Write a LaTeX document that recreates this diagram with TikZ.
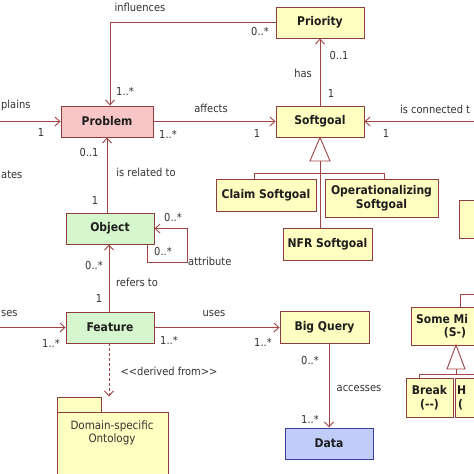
\documentclass[tikz,border=0pt]{standalone}
\usepackage{fontspec}
\setmainfont{DejaVu Sans Condensed}
\usetikzlibrary{arrows.meta}
\definecolor{ln}{HTML}{A04444}
\definecolor{bx}{HTML}{8E3E3E}
\definecolor{yel}{HTML}{FFFFC2}
\definecolor{pnk}{HTML}{F8C6C6}
\definecolor{grn}{HTML}{D6F6CE}
\definecolor{blu}{HTML}{C2CCF8}
\definecolor{bbx}{HTML}{34449C}
\definecolor{txt}{HTML}{1E1E1E}
\definecolor{labc}{HTML}{333333}
\tikzset{
  cls/.style={draw=bx, line width=0.9pt, inner sep=0pt, align=center,
    font=\bfseries\fontsize{12}{14}\selectfont, text=txt},
  yb/.style={cls, fill=yel},
  lab/.style={font=\fontsize{11}{12}\selectfont, text=labc, inner sep=0pt},
  labb/.style={font=\bfseries\fontsize{12}{14}\selectfont, text=txt, inner sep=0pt},
  line/.style={draw=ln, line width=0.9pt},
  assoc/.style={line, -{Straight Barb[length=5pt,width=9pt]}},
  gen/.style={line, fill=white},
}
\begin{document}
\begin{tikzpicture}[x=1pt,y=-1pt]
\clip (0,0) rectangle (474,474);
\fill[white] (0,0) rectangle (474,474);
% classes
\node[yb, minimum width=88pt, minimum height=31pt] (prio) at (320,22.5) {Priority};
\node[cls, fill=pnk, minimum width=92pt, minimum height=31pt] (prob) at (107,121.5) {Problem};
\node[yb, minimum width=88pt, minimum height=31pt] (soft) at (320,121.5) {Softgoal};
\node[yb, minimum width=100pt, minimum height=32pt] (claim) at (266,195) {Claim Softgoal};
\node[yb, minimum width=113pt, minimum height=38pt] (oper) at (381.5,198) {Operationalizing\\Softgoal};
\node[yb, minimum width=89pt, minimum height=32pt] (nfr) at (327.5,244) {NFR Softgoal};
\node[cls, fill=grn, minimum width=88pt, minimum height=31pt] (obj) at (110,228.5) {Object};
\node[cls, fill=grn, minimum width=88pt, minimum height=31pt] (feat) at (110,327.5) {Feature};
\node[yb, minimum width=89pt, minimum height=32pt] (bq) at (324.5,327) {Big Query};
\node[cls, fill=blu, draw=bbx, minimum width=88pt, minimum height=31pt] (data) at (329,443.5) {Data};
% partial boxes on the right
\node[yb, minimum width=60pt, minimum height=38pt] (rbox) at (489,219) {};
\node[yb, minimum width=100pt, minimum height=38pt] (smi) at (461,326) {};
\node[yb, minimum width=47pt, minimum height=39pt] (brk) at (429.5,397.5) {Break\\(-{}-)};
\node[yb, minimum width=50pt, minimum height=39pt] (hbox) at (480,397.5) {};
\node[labb, anchor=west] (smit) at (416,319) {Some Mi};
\node[labb] (smit2) at (455,333) {(S-)};
\node[labb, anchor=west] (ht) at (457,390) {H};
\node[labb, anchor=west] (ht2) at (458,405) {(};
% package
\node[draw=bx, fill=yel, line width=0.9pt, minimum width=44pt, minimum height=15pt, inner sep=0pt] (tab) at (79,404.5) {};
\node[draw=bx, fill=yel, line width=0.9pt, minimum width=111pt, minimum height=70pt, inner sep=0pt, anchor=north west] (pkg) at (57,412) {};
\node[lab, align=center, font=\fontsize{11.5}{13}\selectfont] (onto) at (112,432.5) {Domain-specific\\Ontology};
% associations
\draw[assoc] (prio.west) -| ([xshift=3pt]prob.north);
\coordinate (lin) at (-5,121.5);
\draw[assoc] (lin) -- (prob.west);
\draw[assoc] (prob.east) -- (soft.west);
\draw[assoc] (soft.north) -- (prio.south);
\coordinate (rin) at (480,121.5);
\draw[assoc] (rin) -- (soft.east);
\draw[assoc] ([xshift=-3pt]obj.north) -- ([xshift=-3pt]obj.north |- prob.south);
\draw[assoc] ([xshift=-1pt]feat.north) -- ([xshift=-1pt]obj.south);
\draw[assoc] ([xshift=-7pt]obj.south east) |- ++(40,18) |- (obj.east);
\coordinate (fin) at (-5,327.5);
\draw[assoc] (fin) -- (feat.west);
\draw[assoc] (feat.east) -- (feat.east -| bq.west);
\draw[assoc] (data.north |- bq.south) -- (data.north);
\draw[line, densely dashed, -{Straight Barb[length=5pt,width=9pt]}] ([xshift=-1pt]feat.south) -- ([xshift=-1pt]feat.south |- tab.north);
% generalization Softgoal
\coordinate (tb) at (320,161);
\coordinate (gcl) at (254,173);
\coordinate (gop) at (384,173);
\draw[gen] (soft.south) -- (310,161) -- (330,161) -- cycle;
\draw[line] (tb) -- (tb |- nfr.north);
\draw[line] (gcl) -- (gop);
\draw[line] (gcl) -- (gcl |- claim.north);
\draw[line] (gop) -- (gop |- oper.north);
% generalization right side
\coordinate (sa) at (460,294);
\coordinate (sb) at (480,294);
\draw[line] (sa |- smi.north) -- (sa) -- (sb);
\coordinate (ta) at (456,345);
\coordinate (tc) at (456,369);
\coordinate (hl) at (419,374);
\coordinate (hr) at (480,374);
\draw[gen] (ta) -- (447,369) -- (465,369) -- cycle;
\draw[line] (tc) -- (456,374);
\draw[line] (hl) -- (hr);
\draw[line] (hl) -- (hl |- brk.north);
% labels
\node[lab] (l1) at (140,7) {influences};
\node[lab] (l2) at (260,31) {0..*};
\node[lab] (l3) at (125,91) {1..*};
\node[lab, anchor=west] (l4) at (1,105) {plains};
\node[lab] (l5) at (41,132) {1};
\node[lab] (l6) at (211,108) {affects};
\node[lab] (l7) at (168,134) {1..*};
\node[lab] (l8) at (257,133) {1};
\node[lab] (l9) at (303,73) {has};
\node[lab] (l10) at (339,55) {0..1};
\node[lab] (l11) at (331,93) {1};
\node[lab, anchor=west] (l12) at (400,109) {is connected t};
\node[lab] (l13) at (386,133) {1};
\node[lab] (l14) at (89,152) {0..1};
\node[lab] (l15) at (146,172) {is related to};
\node[lab] (l16) at (95,200) {1};
\node[lab, anchor=west] (l17) at (1,175) {ates};
\node[lab] (l18) at (173,217) {0..*};
\node[lab] (l19) at (163,251) {0..*};
\node[lab, anchor=west] (l20) at (188,261) {attribute};
\node[lab] (l21) at (94,265) {0..*};
\node[lab] (l22) at (137,282) {refers to};
\node[lab] (l23) at (99,298) {1};
\node[lab, anchor=west] (l24) at (1,313) {ses};
\node[lab] (l25) at (51,343) {1..*};
\node[lab] (l26) at (214,313) {uses};
\node[lab] (l27) at (169,340) {1..*};
\node[lab] (l28) at (263,342) {1..*};
\node[lab] (l29) at (310,360) {0..*};
\node[lab] (l30) at (359,388) {accesses};
\node[lab] (l31) at (310,419) {1..*};
\node[lab] (l32) at (169,371) {<{}<derived from>{}>};
\end{tikzpicture}
\end{document}
